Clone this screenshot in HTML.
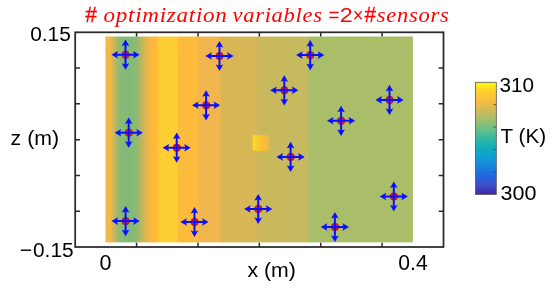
<!DOCTYPE html>
<html lang="en"><head><meta charset="utf-8"><title>Sensor placement optimization</title>
<style>
html,body{margin:0;padding:0;background:#fff;}
body{width:550px;height:289px;overflow:hidden;}
svg{display:block;}
.sans{font-family:"Liberation Sans",Arial,sans-serif;fill:#000;}
.ser{font-family:"Liberation Serif","Times New Roman",serif;font-style:italic;fill:#ff0000;}
.rs{font-family:"Liberation Sans",Arial,sans-serif;fill:#ff0000;}
</style></head><body>
<svg width="550" height="289" viewBox="0 0 550 289">
<defs>
<linearGradient id="field" x1="0" x2="1" y1="0" y2="0">
<stop offset="0.0000" stop-color="#f4b946"/>
<stop offset="0.0133" stop-color="#f2b947"/>
<stop offset="0.0247" stop-color="#d6b756"/>
<stop offset="0.0377" stop-color="#a6b86a"/>
<stop offset="0.0491" stop-color="#89ba77"/>
<stop offset="0.0605" stop-color="#84ba78"/>
<stop offset="0.0898" stop-color="#84ba78"/>
<stop offset="0.0995" stop-color="#8fb972"/>
<stop offset="0.1109" stop-color="#aab866"/>
<stop offset="0.1223" stop-color="#c8b75a"/>
<stop offset="0.1337" stop-color="#e4b74c"/>
<stop offset="0.1450" stop-color="#f6b742"/>
<stop offset="0.1548" stop-color="#fdb83c"/>
<stop offset="0.1672" stop-color="#fdba3b"/>
<stop offset="0.1743" stop-color="#fdcf33"/>
<stop offset="0.2312" stop-color="#fdcf33"/>
<stop offset="0.2384" stop-color="#fdbb3c"/>
<stop offset="0.3011" stop-color="#fdbb3c"/>
<stop offset="0.3044" stop-color="#f1b54c"/>
<stop offset="0.3720" stop-color="#f0b54d"/>
<stop offset="0.3766" stop-color="#d9b655"/>
<stop offset="0.4937" stop-color="#d6b757"/>
<stop offset="0.4989" stop-color="#c9b95d"/>
<stop offset="0.6566" stop-color="#c7b95e"/>
<stop offset="0.6621" stop-color="#aabd68"/>
<stop offset="1.0000" stop-color="#aabd68"/>
</linearGradient>
<linearGradient id="sq" x1="0" x2="1" y1="0" y2="0">
<stop offset="0" stop-color="#fde021"/><stop offset="0.3" stop-color="#fccb2d"/><stop offset="0.6" stop-color="#f9be3a"/><stop offset="1" stop-color="#f3ba44"/>
</linearGradient>
<linearGradient id="cb" x1="0" x2="0" y1="0" y2="1">
<stop offset="0.0000" stop-color="#f9fb0e"/>
<stop offset="0.0833" stop-color="#fcce2e"/>
<stop offset="0.1667" stop-color="#f9bd3e"/>
<stop offset="0.2500" stop-color="#d1ba58"/>
<stop offset="0.3333" stop-color="#a3be6a"/>
<stop offset="0.4167" stop-color="#6cc08c"/>
<stop offset="0.5000" stop-color="#33b8a1"/>
<stop offset="0.5833" stop-color="#12aebc"/>
<stop offset="0.6667" stop-color="#0d9fd2"/>
<stop offset="0.7500" stop-color="#1b83dc"/>
<stop offset="0.8333" stop-color="#1f67e0"/>
<stop offset="0.9167" stop-color="#3f4ec8"/>
<stop offset="1.0000" stop-color="#3e26a8"/>
</linearGradient>
<g id="mk">
<circle cx="0.1" cy="0" r="3.7" fill="#e01a22" stroke="#b4141c" stroke-width="0.9"/>
<path d="M-10 0H10M0 -11V11" stroke="#0a10ff" stroke-width="2" fill="none"/>
<path d="M-14.1 0L-7.6 -3.8L-8.7 0L-7.6 3.8ZM14.1 0L7.6 -3.8L8.7 0L7.6 3.8ZM0 -15.1L-3.8 -8.6L0 -9.7L3.8 -8.6ZM0 15.1L-3.8 8.6L0 9.7L3.8 8.6Z" fill="#0a10ff"/>
</g>
</defs>
<rect width="550" height="289" fill="#fff"/>

<rect x="105.4" y="36.5" width="307.5" height="205.9" fill="url(#field)"/>
<rect x="252.6" y="134.9" width="16.1" height="16.2" rx="2.4" fill="url(#sq)"/>
<rect x="75.20" y="32.30" width="368.30" height="214.70" fill="none" stroke="#2a2a2a" stroke-width="1.75"/>
<path d="M136.58 32.30v4.3M136.58 247.00v-4.3M197.97 32.30v4.3M197.97 247.00v-4.3M259.35 32.30v4.3M259.35 247.00v-4.3M320.73 32.30v4.3M320.73 247.00v-4.3M382.12 32.30v4.3M382.12 247.00v-4.3M75.20 68.08h4.8M443.50 68.08h-4.8M75.20 103.87h4.8M443.50 103.87h-4.8M75.20 139.65h4.8M443.50 139.65h-4.8M75.20 175.43h4.8M443.50 175.43h-4.8M75.20 211.22h4.8M443.50 211.22h-4.8" stroke="#2a2a2a" stroke-width="1.5" fill="none"/>
<use href="#mk" x="125.5" y="54.7"/>
<use href="#mk" x="219.5" y="56.0"/>
<use href="#mk" x="310.2" y="55.1"/>
<use href="#mk" x="284.3" y="90.3"/>
<use href="#mk" x="206.1" y="105.3"/>
<use href="#mk" x="389.5" y="99.9"/>
<use href="#mk" x="341.1" y="120.8"/>
<use href="#mk" x="128.7" y="132.7"/>
<use href="#mk" x="176.7" y="147.7"/>
<use href="#mk" x="290.6" y="156.9"/>
<use href="#mk" x="393.8" y="196.5"/>
<use href="#mk" x="258.2" y="209.0"/>
<use href="#mk" x="334.9" y="227.0"/>
<use href="#mk" x="125.6" y="221.1"/>
<use href="#mk" x="194.5" y="222.0"/>
<rect x="475.5" y="82.3" width="20.8" height="112.1" fill="url(#cb)" stroke="#555" stroke-width="0.8"/>
<path d="M496.3 104.66h-3M496.3 127.02h-3M496.3 149.38h-3M496.3 171.74h-3" stroke="#444" stroke-width="0.8" fill="none"/>
<text class="sans" x="30.2" y="41.4" font-size="20.5" textLength="40.6" lengthAdjust="spacingAndGlyphs">0.15</text>
<text class="sans" x="10.6" y="144.5" font-size="19.8" textLength="48.4" lengthAdjust="spacingAndGlyphs">z (m)</text>
<text class="sans" x="19.8" y="257.3" font-size="20.5" textLength="12.4" lengthAdjust="spacingAndGlyphs">−</text>
<text class="sans" x="33.0" y="257.3" font-size="20.5" textLength="40.6" lengthAdjust="spacingAndGlyphs">0.15</text>
<text class="sans" x="99.6" y="269.5" font-size="21.6">0</text>
<text class="sans" x="247.5" y="276.5" font-size="19.8" textLength="48.4" lengthAdjust="spacingAndGlyphs">x (m)</text>
<text class="sans" x="398.3" y="269.5" font-size="21.6" textLength="29.4" lengthAdjust="spacingAndGlyphs">0.4</text>
<text class="sans" x="499.5" y="92.2" font-size="20.4" textLength="34.5" lengthAdjust="spacingAndGlyphs">310</text>
<text class="sans" x="500.5" y="142.7" font-size="19.8" textLength="45.6" lengthAdjust="spacingAndGlyphs">T (K)</text>
<text class="sans" x="500.4" y="199.6" font-size="20.4" textLength="36" lengthAdjust="spacingAndGlyphs">300</text>
<text stroke="#ff0000" stroke-width="0.35" class="rs" x="85.00" y="22.3" font-size="22.3" textLength="11.59" lengthAdjust="spacingAndGlyphs" font-style="italic">#</text>
<text class="ser" x="103.6" y="21.8" font-size="22" textLength="124" letter-spacing="0.7" lengthAdjust="spacingAndGlyphs">optimization</text>
<text class="ser" x="232.6" y="21.8" font-size="22" textLength="90" letter-spacing="0.7" lengthAdjust="spacingAndGlyphs">variables</text>
<text class="rs" x="328.59" y="22.0" font-size="21.0" textLength="10.94" lengthAdjust="spacingAndGlyphs">=</text>
<text class="rs" x="339.83" y="22.0" font-size="21.0" textLength="12.94" lengthAdjust="spacingAndGlyphs">2</text>
<text class="rs" x="352.72" y="22.0" font-size="21.0" textLength="10.74" lengthAdjust="spacingAndGlyphs">×</text>
<text stroke="#ff0000" stroke-width="0.3" class="rs" x="364.21" y="22.2" font-size="22.0" textLength="11.49" lengthAdjust="spacingAndGlyphs" font-style="italic">#</text>
<text class="ser" x="376.8" y="21.8" font-size="22" textLength="72.6" letter-spacing="0.7" lengthAdjust="spacingAndGlyphs">sensors</text>
</svg>
</body></html>
